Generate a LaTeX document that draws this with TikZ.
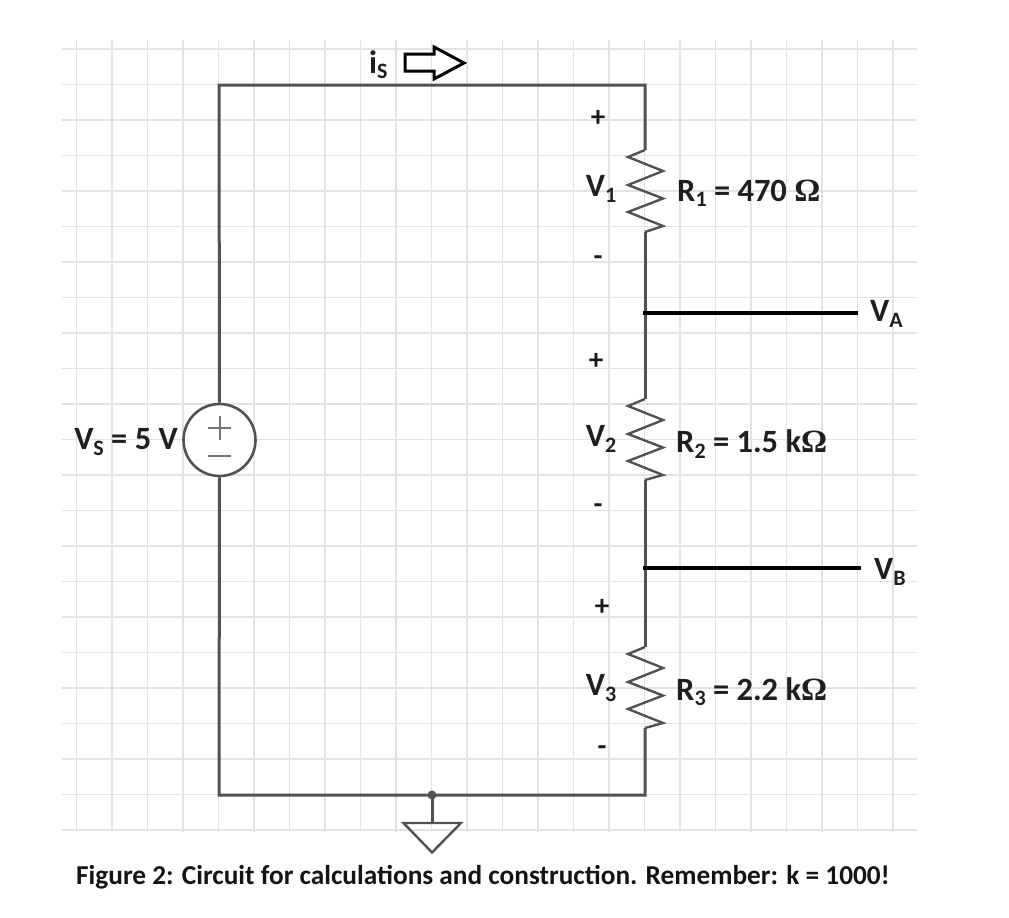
\documentclass[tikz,border=0pt]{standalone}
\usepackage{fontspec}
\setmainfont{Carlito}
\newfontfamily\omegafont{Liberation Serif}
\newcommand{\lowtxt}[1]{\raisebox{-0.16em}{\fontsize{22}{22}\selectfont #1}}
\newcommand{\ohm}{{\omegafont\bfseries\char"03A9}}
\begin{document}
\begin{tikzpicture}[x=1pt,y=-1pt,
   gridline/.style={draw=black!11,line width=1.3pt},
   wire/.style={draw=black!68,line width=3pt,line join=miter},
   zigzag/.style={draw=black!68,line width=2.4pt,line join=miter},
   probe/.style={draw=black,line width=3.2pt},
   lbl/.style={inner sep=0pt,text=black!88,font=\fontsize{32.5}{35}\selectfont\bfseries},
   sign/.style={inner sep=0pt,text=black!90,font=\fontsize{29}{29}\selectfont\bfseries}]
\useasboundingbox (0,0) rectangle (1009,918);

%draw grid
\foreach \x in {0,...,23}{
   \draw[gridline] (76.5+35.5*\x,40) -- (76.5+35.5*\x,832);
}
\foreach \y in {0,...,22}{
   \draw[gridline] (62,49+35.5*\y) -- (917,49+35.5*\y);
}

%draw corners and junctions
\coordinate (tl) at (219,85);
\coordinate (tr) at (645,85);
\coordinate (bl) at (219,795);
\coordinate (br) at (645,795);
\coordinate (gnd) at (432,795);
\coordinate (r1t) at (645,150);
\coordinate (r1b) at (645,232);
\coordinate (ja) at (645,313);
\coordinate (r2t) at (645,399);
\coordinate (r2b) at (645,480);
\coordinate (jb) at (645,568);
\coordinate (r3t) at (645,647);
\coordinate (r3b) at (645,728);
\coordinate (jaend) at (858,313);
\coordinate (jbend) at (861,568);

%draw source
\node[circle,draw=black!68,fill=white,line width=2.6pt,minimum size=72pt,inner sep=0pt] (src) at (219.5,440) {};
\draw[draw=black!55,line width=2pt] (208,428) -- (231,428) (219.5,416) -- (219.5,440);
\draw[draw=black!55,line width=2pt] (208,456) -- (231,456);

%draw wires
\draw[wire] (src.north) -- (tl) -- (tr) -- (r1t);
\draw[wire] (src.south) -- (bl) -- (br) -- (r3b);
\draw[wire] (r1b) -- (ja) -- (r2t);
\draw[wire] (r2b) -- (jb) -- (r3t);

%draw resistors
\foreach \rtop/\rbot in {r1t/r1b,r2t/r2b,r3t/r3b}{
   \draw[zigzag] (\rtop) -- ++(-17,7) -- ++(35,14) -- ++(-35,14) -- ++(35,13.5) -- ++(-35,13.5) -- ++(35,14) -- (\rbot);
}

%draw outputs
\draw[probe] (ja) ++(-2,0) -- (jaend);
\draw[probe] (jb) ++(-2,0) -- (jbend);

%draw ground
\fill[black!68] (gnd) circle (4.5pt);
\draw[wire] (gnd) -- ++(0,28);
\draw[draw=black!68,line width=2.4pt,line join=miter] (gnd) ++(-28.5,28) -- ++(57.5,0) -- ++(-29,29.5) -- cycle;

%draw current arrow
\draw[draw=black,line width=3pt,line join=miter] (405,54) -- (434,54) -- (434,47) -- (464,63) -- (434,79) -- (434,71) -- (405,71) -- cycle;

%draw labels
\node[lbl,anchor=west] (is) at (369,65) {i\lowtxt{S}};
\node[lbl,anchor=east] (vs) at (178,442) {V\lowtxt{S} = 5 V};
\node[sign] (p1) at (598,118) {+};
\node[lbl] (v1) at (601,189) {V\lowtxt{1}};
\node[sign] (m1) at (598,261) {-};
\node[sign] (p2) at (596,361) {+};
\node[lbl] (v2) at (601,439) {V\lowtxt{2}};
\node[sign] (m2) at (598,509) {-};
\node[sign] (p3) at (602,607) {+};
\node[lbl] (v3) at (601,688) {V\lowtxt{3}};
\node[sign] (m3) at (602,751) {-};
\node[lbl,anchor=west] (r1) at (677,193) {R\lowtxt{1} = 470 \ohm};
\node[lbl,anchor=west] (r2) at (676,444) {R\lowtxt{2} = 1.5 k\ohm};
\node[lbl,anchor=west] (r3) at (676,692) {R\lowtxt{3} = 2.2 k\ohm};
\node[lbl,anchor=west] (va) at (870,314) {V\lowtxt{A}};
\node[lbl,anchor=west] (vb) at (874,572) {V\lowtxt{B}};
\node[anchor=west,inner sep=0pt,text=black!92,font=\fontsize{27.3}{30}\selectfont\bfseries] (cap) at (76,877) {Figure 2: Circuit for calculations and construction. Remember: k = 1000!};
\end{tikzpicture}
\end{document}
